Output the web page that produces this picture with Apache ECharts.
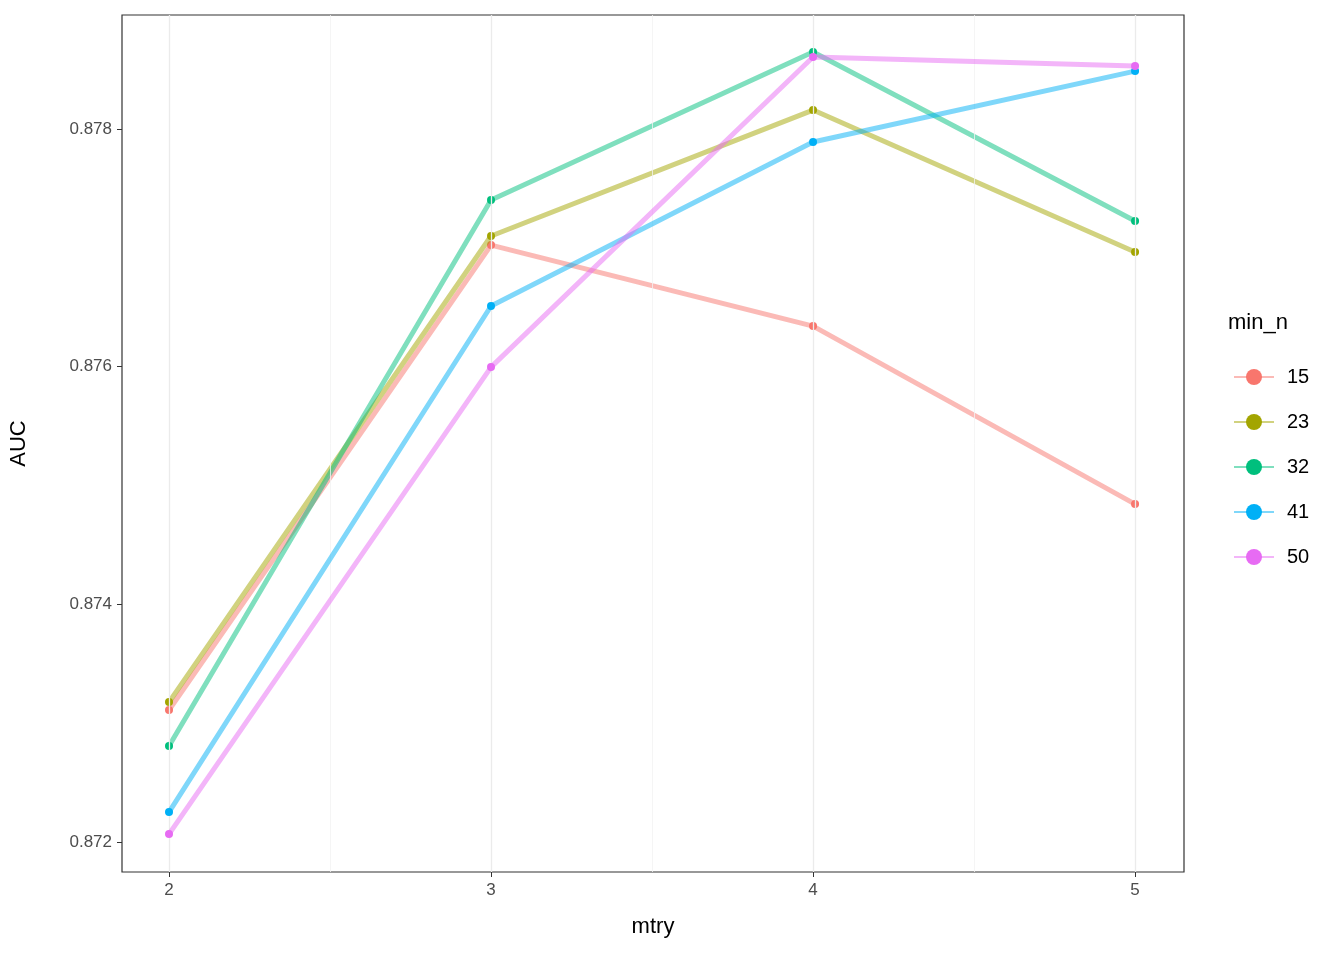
<!DOCTYPE html>
<html>
<head>
<meta charset="utf-8">
<script src="https://cdn.jsdelivr.net/npm/echarts@6/dist/echarts.min.js"></script>
<style>html,body{margin:0;background:#fff}#chart{width:1344px;height:960px}</style>
</head>
<body>
<div id="chart"></div>
<script>
// 数据
const mtry = [2, 3, 4, 5];
const groups = ['15', '23', '32', '41', '50'];
const auc15 = [0.873111, 0.877024, 0.876342, 0.874844];
const auc23 = [0.873178, 0.877100, 0.878160, 0.876965];
const auc32 = [0.872808, 0.877403, 0.878648, 0.877226];
const auc41 = [0.872252, 0.876511, 0.877891, 0.878488];
const auc50 = [0.872067, 0.875997, 0.878606, 0.878530];
const colors = ['#F8766D', '#A3A500', '#00BF7D', '#00B0F6', '#E76BF3'];
const yTicks = [0.872, 0.874, 0.876, 0.878];
const yMinor = [0.873, 0.875, 0.877];
const xMinor = [2.5, 3.5, 4.5];

const chart = echarts.init(document.getElementById('chart'));
const allAuc = [auc15, auc23, auc32, auc41, auc50];

// 网格线用 markLine 画
const gridSeries = {
  type: 'line', data: [], silent: true, z: 0,
  markLine: {
    symbol: 'none', silent: true, label: { show: false },
    data: [
      ...mtry.map(v => ({ xAxis: v, lineStyle: { color: '#ebebeb', width: 1.3, type: 'solid' } })),
      ...xMinor.map(v => ({ xAxis: v, lineStyle: { color: '#f3f3f3', width: 0.8, type: 'solid' } })),
      ...yTicks.map(v => ({ yAxis: v, lineStyle: { color: '#ebebeb', width: 1.3, type: 'solid' } })),
      ...yMinor.map(v => ({ yAxis: v, lineStyle: { color: '#f3f3f3', width: 0.8, type: 'solid' } }))
    ]
  }
};

const lineSeries = groups.map((g, i) => ({
  name: g, type: 'line',
  data: mtry.map((x, j) => [x, allAuc[i][j]]),
  symbol: 'circle', symbolSize: 8,
  lineStyle: { color: colors[i], width: 5, opacity: 0.5 },
  itemStyle: { color: colors[i] },
  z: 2 + i
}));

chart.setOption({
  animation: false,
  grid: { left: 122, top: 15, width: 1062, height: 857, show: true, borderColor: '#333', borderWidth: 1.2, backgroundColor: 'transparent' },
  xAxis: {
    type: 'value', min: 1.854, max: 5.152,
    name: 'mtry', nameLocation: 'middle', nameGap: 44,
    nameTextStyle: { fontSize: 22, color: '#000', fontFamily: 'Liberation Sans' },
    axisLine: { show: false }, splitLine: { show: false },
    axisTick: { show: true, customValues: mtry, length: 5, lineStyle: { color: '#333' } },
    axisLabel: { customValues: mtry, fontSize: 17, color: '#4d4d4d', fontFamily: 'Liberation Sans', margin: 10 }
  },
  yAxis: {
    type: 'value', min: 0.871748, max: 0.878960,
    name: 'AUC', nameLocation: 'middle', nameGap: 92, nameRotate: 90,
    nameTextStyle: { fontSize: 22, color: '#000', fontFamily: 'Liberation Sans' },
    axisLine: { show: false }, splitLine: { show: false },
    axisTick: { show: true, customValues: yTicks, length: 5, lineStyle: { color: '#333' } },
    axisLabel: { customValues: yTicks, fontSize: 17, color: '#4d4d4d', fontFamily: 'Liberation Sans', margin: 10,
      formatter: v => v.toFixed(3) }
  },
  legend: {
    data: groups, orient: 'vertical', left: 1228, top: 362, itemGap: 25,
    itemWidth: 40, itemHeight: 20,
    textStyle: { fontSize: 20, color: '#000', fontFamily: 'Liberation Sans', padding: [0, 0, 0, 8] }
  },
  graphic: [{ type: 'text', left: 1228, top: 312, style: { text: 'min_n', fontSize: 22, fill: '#000', fontFamily: 'Liberation Sans' } }],
  series: [gridSeries, ...lineSeries]
});
</script>
</body>
</html>
